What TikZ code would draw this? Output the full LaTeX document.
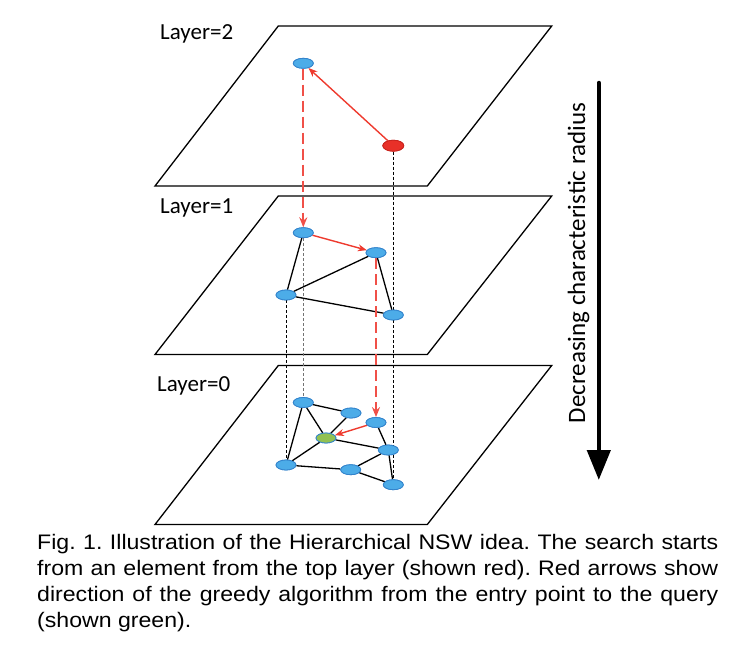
\documentclass[tikz,border=0pt]{standalone}
\usepackage{fontspec}
\setmainfont{Carlito}
\newfontfamily\capfont[FakeStretch=1.1]{Liberation Sans}
\usetikzlibrary{arrows.meta,shapes.geometric}
\definecolor{nblue}{RGB}{76,172,232}
\definecolor{nblueb}{RGB}{52,132,204}
\definecolor{ngreen}{RGB}{146,193,82}
\definecolor{nred}{RGB}{232,48,40}
\definecolor{nredb}{RGB}{200,36,30}
\definecolor{ared}{RGB}{238,58,46}
\definecolor{dred}{RGB}{240,80,72}
\tikzset{
  pt/.style={ellipse, draw=nblueb, fill=nblue, line width=0.8pt, minimum width=20pt, minimum height=10pt, inner sep=0pt},
  qpt/.style={pt, fill=ngreen},
  epnt/.style={pt, draw=nredb, fill=nred},
  plane/.style={draw=black, line width=1.3pt, line join=miter},
  edge/.style={draw=black, line width=1.3pt},
  redarrow/.style={draw=ared, line width=1.4pt, -{Stealth[length=9pt,width=7pt]}},
  reddash/.style={draw=dred, line width=2pt, dash pattern=on 11pt off 5pt, -{Stealth[length=10pt,width=8pt]}},
  vdash/.style={draw=black, line width=0.8pt, dash pattern=on 3pt off 2pt},
  gdash/.style={draw=black!55, line width=0.8pt, dash pattern=on 3pt off 2pt},
  lbl/.style={anchor=base west, inner sep=0pt, font=\fontsize{23}{26}\selectfont},
}
\begin{document}
\begin{tikzpicture}[x=1pt,y=-1pt]
\useasboundingbox (0,0) rectangle (740,646);
% planes
\draw[plane] (155,186) -- (427.3,186) -- (551.7,26) -- (278.3,26) -- cycle;
\draw[plane] (155,354.5) -- (427.3,354.5) -- (551.7,196) -- (278.3,196) -- cycle;
\draw[plane] (155,524.5) -- (427.3,524.5) -- (551.7,365.5) -- (278.3,365.5) -- cycle;
% labels
\node[lbl] (l2) at (160,39.3) {Layer=2};
\node[lbl] (l1) at (160,213.3) {Layer=1};
\node[lbl] (l0) at (157,391.7) {Layer=0};
% layer 2 nodes
\node[pt] (b2) at (303.3,63.3) {};
\node[epnt, minimum width=21pt, minimum height=11pt] (r2) at (393.3,145.7) {};
% layer 1 nodes
\node[pt] (A) at (303.3,232.7) {};
\node[pt] (B) at (376,252.7) {};
\node[pt] (C) at (286,295) {};
\node[pt] (D) at (393.3,315) {};
% layer 0 nodes
\node[pt] (n1) at (303.3,402.5) {};
\node[pt] (n2) at (351,413) {};
\node[pt] (n3) at (376,422.5) {};
\node[qpt] (g) at (326,438) {};
\node[pt] (n5) at (388.3,450) {};
\node[pt] (n6) at (286,465) {};
\node[pt] (n7) at (350.7,469.7) {};
\node[pt] (n8) at (393.3,484.7) {};
% vertical dashed links
\draw[vdash] (r2) -- (D);
\draw[vdash] (D) -- (n8);
\draw[vdash] (C) -- (n6);
\draw[gdash] (A) -- (n1);
% graph edges
\draw[edge] (A) -- (C);
\draw[edge] (C) -- (B);
\draw[edge] (C) -- (D);
\draw[edge] (B) -- (D);
\draw[edge] (n1) -- (n2);
\draw[edge] (n1) -- (g);
\draw[edge] (n1) -- (n6);
\draw[edge] (n2) -- (g);
\draw[edge] (g) -- (n6);
\draw[edge] (g) -- (n5);
\draw[edge] (n3) -- (n5);
\draw[edge] (n5) -- (n7);
\draw[edge] (n5) -- (n8);
\draw[edge] (n6) -- (n7);
\draw[edge] (n7) -- (n8);
% search path
\draw[redarrow] (r2) -- (b2);
\draw[reddash] (b2) -- (A);
\draw[redarrow] (A) -- (B);
\draw[reddash] (B) -- (n3);
\draw[redarrow] (n3) -- (g);
% redraw nodes on top
\foreach \n in {b2,A,B,C,D,n1,n2,n3,n5,n6,n7,n8}{\node[pt] at (\n) {};}
\node[qpt] at (g) {};
\node[epnt, minimum width=21pt, minimum height=11pt] at (r2) {};
% big arrow
\coordinate (atop) at (598.8,83);
\coordinate (abot) at (598.8,480);
\draw[line width=4.5pt, line cap=round, -{Triangle[length=30pt,width=23pt]}] (atop) -- (abot);
\node[rotate=90, anchor=base, inner sep=0pt, font=\fontsize{25}{28}\selectfont] (rad) at (585,263) {Decreasing characteristic radius};
% caption
\node[anchor=base west, inner sep=0pt] (cap) at (37,549) {\parbox[t]{681pt}{\capfont\fontsize{21}{26}\selectfont\frenchspacing\noindent Fig. 1. Illustration of the Hierarchical NSW idea. The search starts\linebreak from an element from the top layer (shown red). Red arrows show\linebreak direction of the greedy algorithm from the entry point to the query\linebreak (shown green).}};
\end{tikzpicture}
\end{document}
